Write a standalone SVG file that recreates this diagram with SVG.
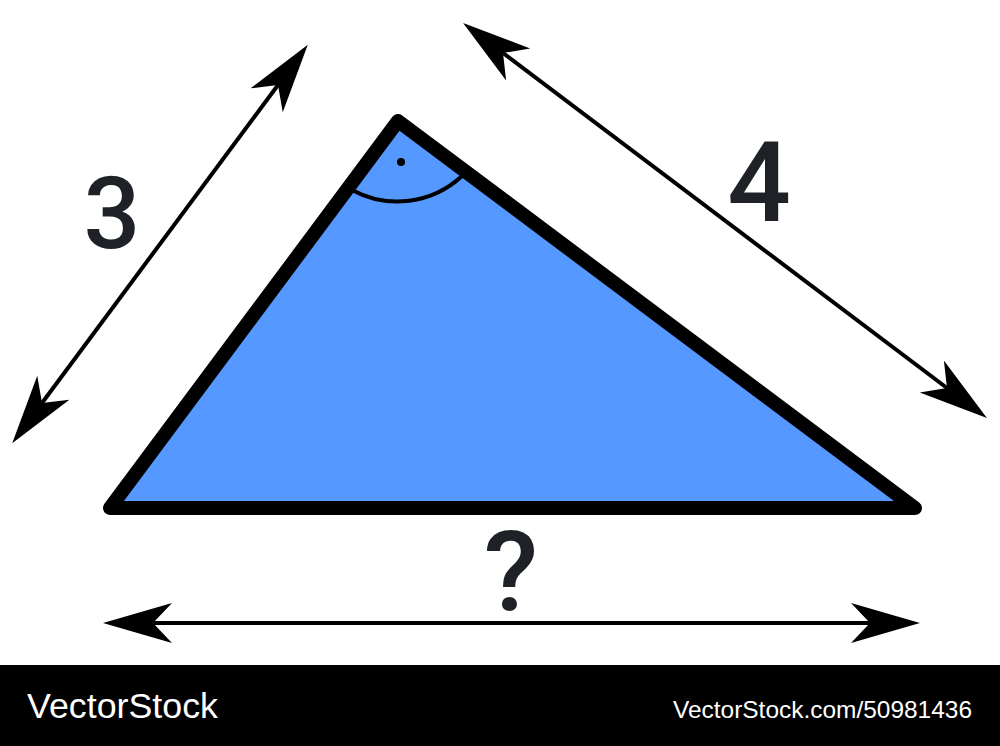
<svg xmlns="http://www.w3.org/2000/svg" width="1000" height="746" viewBox="0 0 1000 746">
<style>
.dim{stroke:#000;stroke-width:4;fill:none;marker-start:url(#ah);marker-end:url(#ah)}
.lbl{font-family:Roboto,"Liberation Sans",Arial,sans-serif;font-weight:500;fill:#1e2126;text-anchor:middle}
.foot{font-family:"Liberation Sans",Arial,sans-serif;fill:#fff}
</style>
<defs>
<marker id="ah" markerUnits="userSpaceOnUse" orient="auto-start-reverse" refX="0" refY="0" markerWidth="1" markerHeight="1" overflow="visible">
<path d="M50 0 L-19 -20 L0 0 L-19 20 Z" fill="#000"/>
</marker>
</defs>
<rect width="1000" height="746" fill="#fff"/>
<g id="triangle">
<path d="M398 121 L110 508 L915 508 Z" fill="#5598ff" stroke="#000" stroke-width="14" stroke-linejoin="round"/>
<path d="M352 190 A95 95 0 0 0 462 176" fill="none" stroke="#000" stroke-width="4"/>
<circle cx="401" cy="162" r="4" fill="#000"/>
</g>
<g id="connectors">
<line class="dim" x1="42" y1="403" x2="278" y2="85"/>
<line class="dim" x1="503" y1="53" x2="947" y2="388"/>
<line class="dim" x1="153" y1="623" x2="870" y2="623"/>
</g>
<g id="label-3"><text class="lbl" x="112" y="248" font-size="100">3</text></g>
<g id="label-4"><text class="lbl" x="759" y="221" font-size="112">4</text></g>
<g id="label-q"><text class="lbl" x="511" y="610" font-size="112">?</text></g>
<g id="footer">
<rect x="0" y="665" width="1000" height="81" fill="#000"/>
<text class="foot" x="27" y="718" font-size="35" textLength="191" lengthAdjust="spacingAndGlyphs">VectorStock</text>
<text class="foot" x="673" y="718" font-size="24" textLength="299" lengthAdjust="spacingAndGlyphs">VectorStock.com/50981436</text>
</g>
</svg>
